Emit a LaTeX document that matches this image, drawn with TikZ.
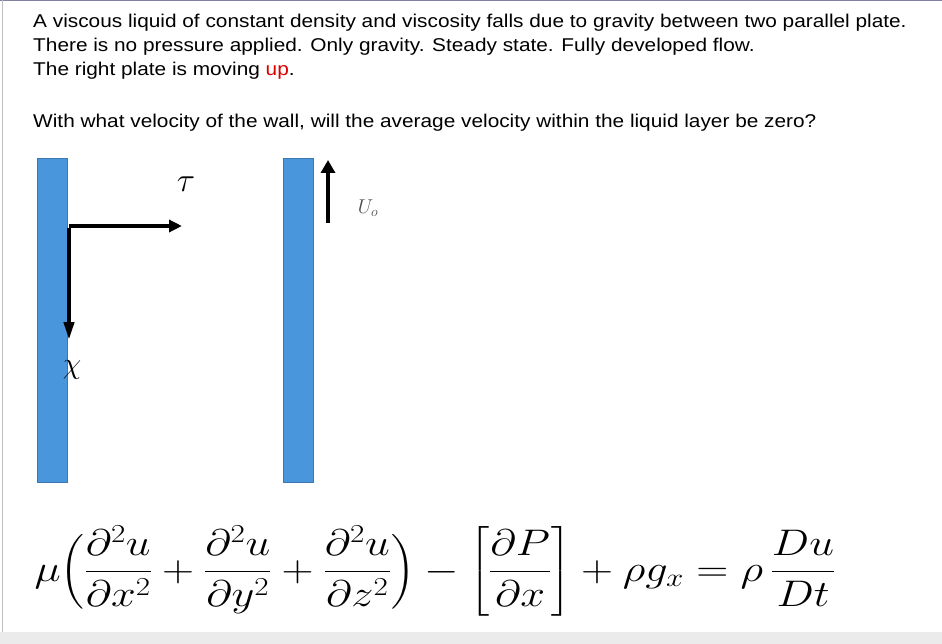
\documentclass[tikz,border=0pt]{standalone}
\usepackage{fix-cm}
\usepackage{amsmath}
\usepackage{fontspec}
\setmainfont{Liberation Sans}
\usetikzlibrary{arrows.meta}
\begin{document}
\begin{tikzpicture}[x=1pt,y=-1pt,
  txt/.style={anchor=base west,inner sep=0pt,font=\fontsize{18.5}{20}\selectfont,xscale=1.125,transform shape}]
\useasboundingbox (0,0) rectangle (942,644);
\fill[white] (0,0) rectangle (942,644);
\draw[line width=1.5pt,black!70!blue!50!white] (0,0.7) -- (942,0.7);
\draw[black!25,line width=1pt] (2,0) -- (2,644);
\fill[black!8] (0,632) rectangle (942,644);
\node[txt] (l1) at (33,28) {A viscous liquid of constant density and viscosity falls due to gravity between two parallel plate.};
\node[txt] (l2) at (33,52) {There is no pressure applied. Only gravity. Steady state. Fully developed flow.};
\node[txt] (l3) at (33,76) {The right plate is moving \textcolor{red!85!black}{up}.};
\node[txt] (l4) at (33,128) {With what velocity of the wall, will the average velocity within the liquid layer be zero?};
\definecolor{pl}{RGB}{74,150,220}
\node[fill=pl,draw=pl!80!black,minimum width=30pt,minimum height=324pt,inner sep=0pt] (lp) at (52,320) {};
\node[fill=pl,draw=pl!80!black,minimum width=30pt,minimum height=324pt,inner sep=0pt] (rp) at (298,320) {};
\coordinate (o) at (69,226);
\coordinate (xe) at (69,340);
\coordinate (ye) at (182,226);
\coordinate (ub) at (328,223);
\coordinate (ut) at (328,160);
\draw[line width=4pt,-{Triangle[length=13pt,width=12pt]}] (o) -- (ye);
\draw[line width=4pt,-{Triangle[length=18pt,width=10pt]}] ([yshift=-2pt]o) -- (xe);
\draw[line width=4pt,-{Triangle[length=13pt,width=14pt]}] (ub) -- (ut);
\node[font=\fontsize{34}{34}\selectfont] (tau) at (186,184) {$\tau$};
\node[font=\fontsize{30}{30}\selectfont] (chi) at (72,370) {$\chi$};
\node[font=\fontsize{20}{20}\selectfont,black!70] (uo) at (368,208) {$U_o$};
\node[anchor=base,inner sep=0pt,font=\fontsize{37}{44}\selectfont,xscale=1.2,transform shape] (eq) at (435,581)
 {$\mu\Big(\dfrac{\partial^2 u}{\partial x^2}+\dfrac{\partial^2 u}{\partial y^2}+\dfrac{\partial^2 u}{\partial z^2}\Big)-\left[\dfrac{\partial P}{\partial x}\right]+\rho g_x=\rho\,\dfrac{Du}{Dt}$};
\end{tikzpicture}
\end{document}
